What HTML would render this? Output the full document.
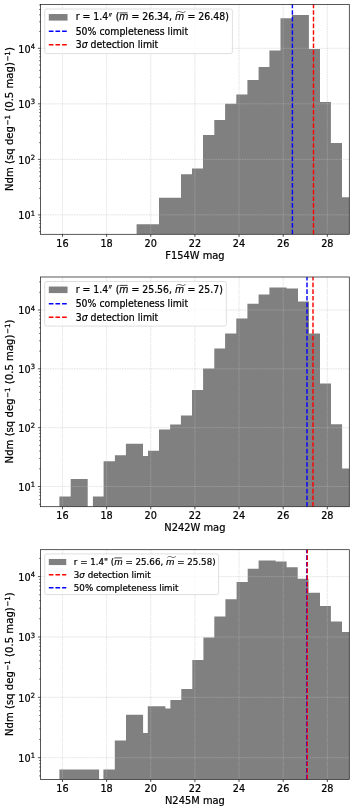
<!DOCTYPE html>
<html lang="en"><head><meta charset="utf-8"><title>Ndm histograms</title>
<style>html,body{margin:0;padding:0;background:#fff}body{width:350px;height:806px;overflow:hidden}svg{display:block}</style>
</head><body>
<svg width="350" height="806" viewBox="0 0 350 806" font-family="'DejaVu Sans','Liberation Sans',sans-serif" fill="#000"><style>text{stroke:#000;stroke-width:0.22px;paint-order:stroke}</style>
<rect width="350" height="806" fill="#fff"/>
<clipPath id="clip0"><rect x="40.5" y="4.5" width="308.8" height="229.8"/></clipPath>
<path d="M62.47 4.5V234.3M106.61 4.5V234.3M150.76 4.5V234.3M194.90 4.5V234.3M239.04 4.5V234.3M283.19 4.5V234.3M327.33 4.5V234.3M40.5 214.90H349.3M40.5 159.37H349.3M40.5 103.83H349.3M40.5 48.30H349.3" stroke="#b0b0b0" stroke-width="0.6" stroke-dasharray="1.5 0.9" stroke-opacity="0.43" fill="none"/>
<path d="M136.60 234.3V224.30H159.00V234.3ZM159.00 234.3V197.70H181.00V234.3ZM181.00 234.3V174.30H192.00V234.3ZM192.00 234.3V168.60H203.00V234.3ZM203.00 234.3V134.90H214.30V234.3ZM214.30 234.3V120.00H225.10V234.3ZM225.10 234.3V103.70H236.30V234.3ZM236.30 234.3V94.60H247.40V234.3ZM247.40 234.3V80.00H258.60V234.3ZM258.60 234.3V67.00H269.40V234.3ZM269.40 234.3V50.50H280.50V234.3ZM280.50 234.3V18.30H291.90V234.3ZM291.90 234.3V15.00H308.90V234.3ZM308.90 234.3V49.00H320.00V234.3ZM320.00 234.3V101.90H330.90V234.3ZM330.90 234.3V143.00H342.00V234.3ZM342.00 234.3V197.30H350.00V234.3Z" fill="#808080" clip-path="url(#clip0)"/>
<path d="M62.47 4.5V234.3M106.61 4.5V234.3M150.76 4.5V234.3M194.90 4.5V234.3M239.04 4.5V234.3M283.19 4.5V234.3M327.33 4.5V234.3M40.5 214.90H349.3M40.5 159.37H349.3M40.5 103.83H349.3M40.5 48.30H349.3" stroke="#d8d8d8" stroke-width="0.6" stroke-dasharray="1.5 0.9" stroke-opacity="0.5" fill="none" clip-path="url(#clip0)"/>
<path d="M292.40 234.3V4.5" stroke="#0000ff" stroke-width="1.42" stroke-dasharray="4.65 2.0" fill="none"/>
<path d="M313.50 234.3V4.5" stroke="#ff0000" stroke-width="1.42" stroke-dasharray="4.65 2.0" fill="none"/>
<rect x="40.5" y="4.5" width="308.8" height="229.8" fill="none" stroke="#1a1a1a" stroke-width="0.72"/>
<path d="M62.47 234.3v2.6M106.61 234.3v2.6M150.76 234.3v2.6M194.90 234.3v2.6M239.04 234.3v2.6M283.19 234.3v2.6M327.33 234.3v2.6M40.5 214.90h-2.6M40.5 159.37h-2.6M40.5 103.83h-2.6M40.5 48.30h-2.6" stroke="#000" stroke-width="0.67" fill="none"/>
<path d="M40.5 231.62h-1.5M40.5 227.22h-1.5M40.5 223.50h-1.5M40.5 220.28h-1.5M40.5 217.44h-1.5M40.5 198.18h-1.5M40.5 188.40h-1.5M40.5 181.47h-1.5M40.5 176.08h-1.5M40.5 171.69h-1.5M40.5 167.97h-1.5M40.5 164.75h-1.5M40.5 161.91h-1.5M40.5 142.65h-1.5M40.5 132.87h-1.5M40.5 125.93h-1.5M40.5 120.55h-1.5M40.5 116.15h-1.5M40.5 112.44h-1.5M40.5 109.22h-1.5M40.5 106.37h-1.5M40.5 87.12h-1.5M40.5 77.34h-1.5M40.5 70.40h-1.5M40.5 65.02h-1.5M40.5 60.62h-1.5M40.5 56.90h-1.5M40.5 53.68h-1.5M40.5 50.84h-1.5M40.5 31.58h-1.5M40.5 21.80h-1.5M40.5 14.87h-1.5M40.5 9.48h-1.5M40.5 5.09h-1.5" stroke="#000" stroke-width="0.5" fill="none"/>
<text transform="translate(62.47 246.80) scale(1 1.047)" font-size="9.7" text-anchor="middle">16</text>
<text transform="translate(106.61 246.80) scale(1 1.047)" font-size="9.7" text-anchor="middle">18</text>
<text transform="translate(150.76 246.80) scale(1 1.047)" font-size="9.7" text-anchor="middle">20</text>
<text transform="translate(194.90 246.80) scale(1 1.047)" font-size="9.7" text-anchor="middle">22</text>
<text transform="translate(239.04 246.80) scale(1 1.047)" font-size="9.7" text-anchor="middle">24</text>
<text transform="translate(283.19 246.80) scale(1 1.047)" font-size="9.7" text-anchor="middle">26</text>
<text transform="translate(327.33 246.80) scale(1 1.047)" font-size="9.7" text-anchor="middle">28</text>
<text transform="translate(35.00 219.20) scale(1 1.047)" font-size="9.7" text-anchor="end">10<tspan font-size="6.79" dy="-3.5">1</tspan></text>
<text transform="translate(35.00 163.67) scale(1 1.047)" font-size="9.7" text-anchor="end">10<tspan font-size="6.79" dy="-3.5">2</tspan></text>
<text transform="translate(35.00 108.13) scale(1 1.047)" font-size="9.7" text-anchor="end">10<tspan font-size="6.79" dy="-3.5">3</tspan></text>
<text transform="translate(35.00 52.60) scale(1 1.047)" font-size="9.7" text-anchor="end">10<tspan font-size="6.79" dy="-3.5">4</tspan></text>
<text transform="translate(194.90 258.70) scale(1 1.047)" font-size="9.88" text-anchor="middle">F154W mag</text>
<text transform="translate(13.3 119.05) rotate(-90)" font-size="10.12" text-anchor="middle">Ndm (sq deg<tspan font-size="7.1" dy="-3.6" dx="0.5">−1</tspan><tspan dy="3.6" dx="0.1"> (0.5 mag)</tspan><tspan font-size="7.1" dy="-3.6" dx="0.5">−1</tspan><tspan dy="3.6">)</tspan></text>
<rect x="44.7" y="9.0" width="187.70" height="44.60" rx="1.8" fill="#fff" fill-opacity="0.8" stroke="#ccc" stroke-opacity="0.8" stroke-width="0.8"/>
<rect x="48.80" y="14.03" width="18.74" height="6.56" fill="#808080"/>
<text transform="translate(108.52 26.70) scale(1.05 2.05)" font-size="9.37" style="stroke-width:0.08px">″</text>
<text transform="translate(75.66 20.40) scale(1 1.047)" font-size="9.37" text-anchor="start">r = 1.4<tspan dx="4.50"> (</tspan><tspan font-style="italic">m</tspan> = 26.34, <tspan font-style="italic">m</tspan><tspan dx="0.5"> = 26.48)</tspan></text>
<path d="M119.41 12.90H127.58" stroke="#000" stroke-width="0.75" fill="none"/>
<text transform="translate(174.90 17.26) scale(1 1.047)" font-size="14.20" font-weight="200" style="stroke:none">~</text>
<path d="M48.80 31.32H67.54" stroke="#0000ff" stroke-width="1.5" stroke-dasharray="4.65 2.0" fill="none"/>
<text transform="translate(75.66 34.60) scale(1 1.047)" font-size="9.37" text-anchor="start">50% completeness limit</text>
<path d="M48.80 44.72H67.54" stroke="#ff0000" stroke-width="1.5" stroke-dasharray="4.65 2.0" fill="none"/>
<text transform="translate(75.66 48.00) scale(1 1.047)" font-size="9.37" text-anchor="start">3<tspan font-style="italic">σ</tspan> detection limit</text>
<clipPath id="clip1"><rect x="40.5" y="277.0" width="308.8" height="229.7"/></clipPath>
<path d="M62.47 277.0V506.7M106.61 277.0V506.7M150.76 277.0V506.7M194.90 277.0V506.7M239.04 277.0V506.7M283.19 277.0V506.7M327.33 277.0V506.7M40.5 486.50H349.3M40.5 427.67H349.3M40.5 368.83H349.3M40.5 310.00H349.3" stroke="#b0b0b0" stroke-width="0.6" stroke-dasharray="1.5 0.9" stroke-opacity="0.43" fill="none"/>
<path d="M59.40 506.7V496.60H70.70V506.7ZM70.70 506.7V478.90H87.70V506.7ZM92.90 506.7V496.60H103.60V506.7ZM103.60 506.7V461.30H114.90V506.7ZM114.90 506.7V455.30H125.90V506.7ZM125.90 506.7V443.70H143.00V506.7ZM143.00 506.7V456.00H148.00V506.7ZM148.00 506.7V450.70H159.00V506.7ZM159.00 506.7V429.40H170.10V506.7ZM170.10 506.7V424.40H180.90V506.7ZM180.90 506.7V415.40H192.00V506.7ZM192.00 506.7V390.00H203.10V506.7ZM203.10 506.7V368.60H214.30V506.7ZM214.30 506.7V348.60H225.10V506.7ZM225.10 506.7V333.40H236.30V506.7ZM236.30 506.7V318.60H247.40V506.7ZM247.40 506.7V303.70H258.60V506.7ZM258.60 506.7V294.40H269.40V506.7ZM269.40 506.7V287.60H286.60V506.7ZM286.60 506.7V288.60H298.00V506.7ZM298.00 506.7V301.50H309.00V506.7ZM309.00 506.7V333.60H320.00V506.7ZM320.00 506.7V383.60H331.00V506.7ZM331.00 506.7V424.20H342.10V506.7ZM342.10 506.7V468.50H350.00V506.7Z" fill="#808080" clip-path="url(#clip1)"/>
<path d="M62.47 277.0V506.7M106.61 277.0V506.7M150.76 277.0V506.7M194.90 277.0V506.7M239.04 277.0V506.7M283.19 277.0V506.7M327.33 277.0V506.7M40.5 486.50H349.3M40.5 427.67H349.3M40.5 368.83H349.3M40.5 310.00H349.3" stroke="#d8d8d8" stroke-width="0.6" stroke-dasharray="1.5 0.9" stroke-opacity="0.5" fill="none" clip-path="url(#clip1)"/>
<path d="M307.00 506.7V277.0" stroke="#0000ff" stroke-width="1.42" stroke-dasharray="4.65 2.0" fill="none"/>
<path d="M313.00 506.7V277.0" stroke="#ff0000" stroke-width="1.42" stroke-dasharray="4.65 2.0" fill="none"/>
<rect x="40.5" y="277.0" width="308.8" height="229.7" fill="none" stroke="#1a1a1a" stroke-width="0.72"/>
<path d="M62.47 506.7v2.6M106.61 506.7v2.6M150.76 506.7v2.6M194.90 506.7v2.6M239.04 506.7v2.6M283.19 506.7v2.6M327.33 506.7v2.6M40.5 486.50h-2.6M40.5 427.67h-2.6M40.5 368.83h-2.6M40.5 310.00h-2.6" stroke="#000" stroke-width="0.67" fill="none"/>
<path d="M40.5 504.21h-1.5M40.5 499.55h-1.5M40.5 495.61h-1.5M40.5 492.20h-1.5M40.5 489.19h-1.5M40.5 468.79h-1.5M40.5 458.43h-1.5M40.5 451.08h-1.5M40.5 445.38h-1.5M40.5 440.72h-1.5M40.5 436.78h-1.5M40.5 433.37h-1.5M40.5 430.36h-1.5M40.5 409.96h-1.5M40.5 399.60h-1.5M40.5 392.25h-1.5M40.5 386.54h-1.5M40.5 381.89h-1.5M40.5 377.95h-1.5M40.5 374.53h-1.5M40.5 371.53h-1.5M40.5 351.12h-1.5M40.5 340.76h-1.5M40.5 333.41h-1.5M40.5 327.71h-1.5M40.5 323.05h-1.5M40.5 319.11h-1.5M40.5 315.70h-1.5M40.5 312.69h-1.5M40.5 292.29h-1.5M40.5 281.93h-1.5" stroke="#000" stroke-width="0.5" fill="none"/>
<text transform="translate(62.47 519.20) scale(1 1.047)" font-size="9.7" text-anchor="middle">16</text>
<text transform="translate(106.61 519.20) scale(1 1.047)" font-size="9.7" text-anchor="middle">18</text>
<text transform="translate(150.76 519.20) scale(1 1.047)" font-size="9.7" text-anchor="middle">20</text>
<text transform="translate(194.90 519.20) scale(1 1.047)" font-size="9.7" text-anchor="middle">22</text>
<text transform="translate(239.04 519.20) scale(1 1.047)" font-size="9.7" text-anchor="middle">24</text>
<text transform="translate(283.19 519.20) scale(1 1.047)" font-size="9.7" text-anchor="middle">26</text>
<text transform="translate(327.33 519.20) scale(1 1.047)" font-size="9.7" text-anchor="middle">28</text>
<text transform="translate(35.00 490.80) scale(1 1.047)" font-size="9.7" text-anchor="end">10<tspan font-size="6.79" dy="-3.5">1</tspan></text>
<text transform="translate(35.00 431.97) scale(1 1.047)" font-size="9.7" text-anchor="end">10<tspan font-size="6.79" dy="-3.5">2</tspan></text>
<text transform="translate(35.00 373.13) scale(1 1.047)" font-size="9.7" text-anchor="end">10<tspan font-size="6.79" dy="-3.5">3</tspan></text>
<text transform="translate(35.00 314.30) scale(1 1.047)" font-size="9.7" text-anchor="end">10<tspan font-size="6.79" dy="-3.5">4</tspan></text>
<text transform="translate(194.90 531.10) scale(1 1.047)" font-size="9.88" text-anchor="middle">N242W mag</text>
<text transform="translate(13.3 391.50) rotate(-90)" font-size="10.12" text-anchor="middle">Ndm (sq deg<tspan font-size="7.1" dy="-3.6" dx="0.5">−1</tspan><tspan dy="3.6" dx="0.1"> (0.5 mag)</tspan><tspan font-size="7.1" dy="-3.6" dx="0.5">−1</tspan><tspan dy="3.6">)</tspan></text>
<rect x="44.7" y="281.5" width="181.60" height="44.60" rx="1.8" fill="#fff" fill-opacity="0.8" stroke="#ccc" stroke-opacity="0.8" stroke-width="0.8"/>
<rect x="48.80" y="286.53" width="18.74" height="6.56" fill="#808080"/>
<text transform="translate(108.52 299.20) scale(1.05 2.05)" font-size="9.37" style="stroke-width:0.08px">″</text>
<text transform="translate(75.66 292.90) scale(1 1.047)" font-size="9.37" text-anchor="start">r = 1.4<tspan dx="4.50"> (</tspan><tspan font-style="italic">m</tspan> = 25.56, <tspan font-style="italic">m</tspan><tspan dx="0.5"> = 25.7)</tspan></text>
<path d="M119.41 285.40H127.58" stroke="#000" stroke-width="0.75" fill="none"/>
<text transform="translate(174.90 289.76) scale(1 1.047)" font-size="14.20" font-weight="200" style="stroke:none">~</text>
<path d="M48.80 303.82H67.54" stroke="#0000ff" stroke-width="1.5" stroke-dasharray="4.65 2.0" fill="none"/>
<text transform="translate(75.66 307.10) scale(1 1.047)" font-size="9.37" text-anchor="start">50% completeness limit</text>
<path d="M48.80 317.22H67.54" stroke="#ff0000" stroke-width="1.5" stroke-dasharray="4.65 2.0" fill="none"/>
<text transform="translate(75.66 320.50) scale(1 1.047)" font-size="9.37" text-anchor="start">3<tspan font-style="italic">σ</tspan> detection limit</text>
<clipPath id="clip2"><rect x="40.5" y="549.7" width="308.8" height="229.69999999999993"/></clipPath>
<path d="M62.47 549.7V779.4M106.61 549.7V779.4M150.76 549.7V779.4M194.90 549.7V779.4M239.04 549.7V779.4M283.19 549.7V779.4M327.33 549.7V779.4M40.5 757.70H349.3M40.5 697.33H349.3M40.5 636.97H349.3M40.5 576.60H349.3" stroke="#b0b0b0" stroke-width="0.6" stroke-dasharray="1.5 0.9" stroke-opacity="0.43" fill="none"/>
<path d="M59.40 779.4V769.40H99.10V779.4ZM103.40 779.4V769.40H114.80V779.4ZM114.80 779.4V740.60H126.00V779.4ZM126.00 779.4V714.80H143.10V779.4ZM143.10 779.4V733.00H147.80V779.4ZM147.80 779.4V706.30H165.40V779.4ZM165.40 779.4V708.60H170.40V779.4ZM170.40 779.4V700.00H181.30V779.4ZM181.30 779.4V689.10H192.30V779.4ZM192.30 779.4V660.00H203.40V779.4ZM203.40 779.4V637.40H214.30V779.4ZM214.30 779.4V616.40H225.40V779.4ZM225.40 779.4V599.30H236.60V779.4ZM236.60 779.4V582.10H247.70V779.4ZM247.70 779.4V568.70H258.60V779.4ZM258.60 779.4V560.50H275.70V779.4ZM275.70 779.4V561.40H286.60V779.4ZM286.60 779.4V567.30H297.70V779.4ZM297.70 779.4V578.70H308.60V779.4ZM308.60 779.4V592.70H320.00V779.4ZM320.00 779.4V605.90H330.90V779.4ZM330.90 779.4V621.60H342.00V779.4ZM342.00 779.4V632.10H350.00V779.4Z" fill="#808080" clip-path="url(#clip2)"/>
<path d="M62.47 549.7V779.4M106.61 549.7V779.4M150.76 549.7V779.4M194.90 549.7V779.4M239.04 549.7V779.4M283.19 549.7V779.4M327.33 549.7V779.4M40.5 757.70H349.3M40.5 697.33H349.3M40.5 636.97H349.3M40.5 576.60H349.3" stroke="#d8d8d8" stroke-width="0.6" stroke-dasharray="1.5 0.9" stroke-opacity="0.5" fill="none" clip-path="url(#clip2)"/>
<path d="M306.80 779.4V549.7" stroke="#0000ff" stroke-width="1.42" stroke-dasharray="4.65 2.0" fill="none"/>
<path d="M307.30 779.4V549.7" stroke="#ff0000" stroke-width="1.42" stroke-dasharray="4.65 2.0" fill="none"/>
<rect x="40.5" y="549.7" width="308.8" height="229.69999999999993" fill="none" stroke="#1a1a1a" stroke-width="0.72"/>
<path d="M62.47 779.4v2.6M106.61 779.4v2.6M150.76 779.4v2.6M194.90 779.4v2.6M239.04 779.4v2.6M283.19 779.4v2.6M327.33 779.4v2.6M40.5 757.70h-2.6M40.5 697.33h-2.6M40.5 636.97h-2.6M40.5 576.60h-2.6" stroke="#000" stroke-width="0.67" fill="none"/>
<path d="M40.5 775.87h-1.5M40.5 771.09h-1.5M40.5 767.05h-1.5M40.5 763.55h-1.5M40.5 760.46h-1.5M40.5 739.53h-1.5M40.5 728.90h-1.5M40.5 721.36h-1.5M40.5 715.51h-1.5M40.5 710.73h-1.5M40.5 706.68h-1.5M40.5 703.18h-1.5M40.5 700.10h-1.5M40.5 679.16h-1.5M40.5 668.53h-1.5M40.5 660.99h-1.5M40.5 655.14h-1.5M40.5 650.36h-1.5M40.5 646.32h-1.5M40.5 642.82h-1.5M40.5 639.73h-1.5M40.5 618.79h-1.5M40.5 608.16h-1.5M40.5 600.62h-1.5M40.5 594.77h-1.5M40.5 589.99h-1.5M40.5 585.95h-1.5M40.5 582.45h-1.5M40.5 579.36h-1.5M40.5 558.43h-1.5" stroke="#000" stroke-width="0.5" fill="none"/>
<text transform="translate(62.47 791.90) scale(1 1.047)" font-size="9.7" text-anchor="middle">16</text>
<text transform="translate(106.61 791.90) scale(1 1.047)" font-size="9.7" text-anchor="middle">18</text>
<text transform="translate(150.76 791.90) scale(1 1.047)" font-size="9.7" text-anchor="middle">20</text>
<text transform="translate(194.90 791.90) scale(1 1.047)" font-size="9.7" text-anchor="middle">22</text>
<text transform="translate(239.04 791.90) scale(1 1.047)" font-size="9.7" text-anchor="middle">24</text>
<text transform="translate(283.19 791.90) scale(1 1.047)" font-size="9.7" text-anchor="middle">26</text>
<text transform="translate(327.33 791.90) scale(1 1.047)" font-size="9.7" text-anchor="middle">28</text>
<text transform="translate(35.00 762.00) scale(1 1.047)" font-size="9.7" text-anchor="end">10<tspan font-size="6.79" dy="-3.5">1</tspan></text>
<text transform="translate(35.00 701.63) scale(1 1.047)" font-size="9.7" text-anchor="end">10<tspan font-size="6.79" dy="-3.5">2</tspan></text>
<text transform="translate(35.00 641.27) scale(1 1.047)" font-size="9.7" text-anchor="end">10<tspan font-size="6.79" dy="-3.5">3</tspan></text>
<text transform="translate(35.00 580.90) scale(1 1.047)" font-size="9.7" text-anchor="end">10<tspan font-size="6.79" dy="-3.5">4</tspan></text>
<text transform="translate(194.90 803.80) scale(1 1.047)" font-size="9.88" text-anchor="middle">N245M mag</text>
<text transform="translate(13.3 664.20) rotate(-90)" font-size="10.12" text-anchor="middle">Ndm (sq deg<tspan font-size="7.1" dy="-3.6" dx="0.5">−1</tspan><tspan dy="3.6" dx="0.1"> (0.5 mag)</tspan><tspan font-size="7.1" dy="-3.6" dx="0.5">−1</tspan><tspan dy="3.6">)</tspan></text>
<rect x="44.7" y="553.9" width="173.90" height="40.70" rx="1.8" fill="#fff" fill-opacity="0.8" stroke="#ccc" stroke-opacity="0.8" stroke-width="0.8"/>
<rect x="48.80" y="558.97" width="17.44" height="6.10" fill="#808080"/>
<text transform="translate(73.81 564.90) scale(1 1.047)" font-size="8.72" text-anchor="start">r = 1.4" (<tspan font-style="italic">m</tspan> = 25.66, <tspan font-style="italic">m</tspan><tspan dx="0"> = 25.58)</tspan></text>
<path d="M114.35 557.92H121.96" stroke="#000" stroke-width="0.70" fill="none"/>
<text transform="translate(166.03 561.98) scale(1 1.047)" font-size="13.21" font-weight="200" style="stroke:none">~</text>
<path d="M48.80 574.85H66.24" stroke="#ff0000" stroke-width="1.5" stroke-dasharray="4.65 2.0" fill="none"/>
<text transform="translate(73.81 577.90) scale(1 1.047)" font-size="8.72" text-anchor="start">3<tspan font-style="italic">σ</tspan> detection limit</text>
<path d="M48.80 587.85H66.24" stroke="#0000ff" stroke-width="1.5" stroke-dasharray="4.65 2.0" fill="none"/>
<text transform="translate(73.81 590.90) scale(1 1.047)" font-size="8.72" text-anchor="start">50% completeness limit</text>
</svg>
</body></html>
